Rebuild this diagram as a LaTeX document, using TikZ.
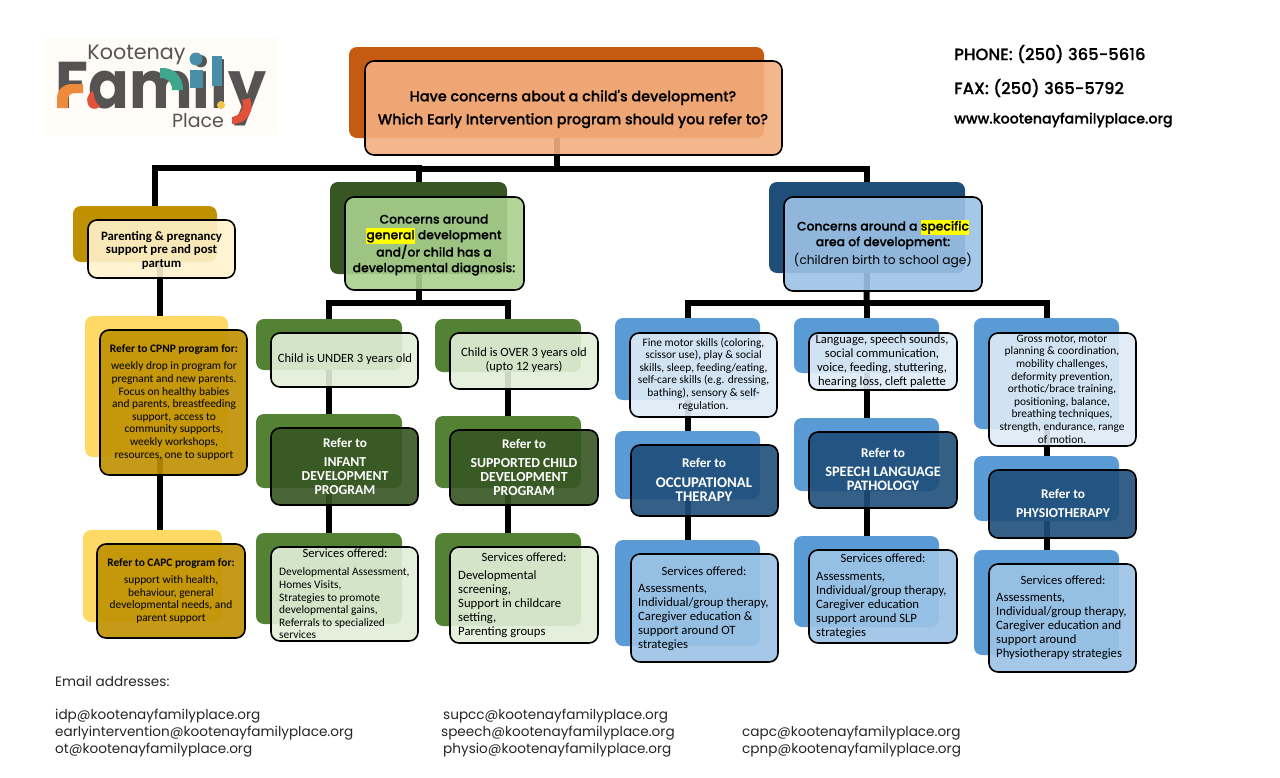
\documentclass[tikz,border=0pt]{standalone}
\usepackage{fontspec}
\usetikzlibrary{calc}
\setmainfont{Carlito}
\newfontfamily\gothic{Poppins}
\newfontfamily\gothicm[FakeBold=0.6]{Poppins Medium}
\setlength{\fboxsep}{0pt}
\definecolor{hl}{HTML}{FFFF00}
\newcommand{\fsz}[2]{\fontsize{#1}{#2}\selectfont}
\newcommand{\bk}[6]{\node[backbox,fill=#6,minimum width={(#4-#2)*1pt},minimum height={(#5-#3)*1pt}] (#1) at ({(#2+#4)/2},{(#3+#5)/2}) {};}
\newcommand{\fr}[6]{\node[frontbox,fill=#6,minimum width={(#4-#2)*1pt},minimum height={(#5-#3)*1pt}] (#1) at ({(#2+#4)/2},{(#3+#5)/2}) {};}
\tikzset{
  backbox/.style={rectangle,rounded corners=8pt,inner sep=0pt,draw=none},
  frontbox/.style={rectangle,rounded corners=9pt,inner sep=0pt,draw=black,line width=1.6pt,fill opacity=.9},
  conn/.style={draw=black,line width=6pt,line join=miter},
  mid/.style={inner sep=0pt,align=center,text=black},
  lft/.style={inner sep=0pt,align=left,anchor=west,text=black},
  head/.style={mid,font=\gothicm\fsz{14.4}{23}},
  genh/.style={mid,font=\gothicm\fsz{12.4}{15.6}},
  small/.style={mid,font=\fsz{11.4}{12.6},text=black},
  smalll/.style={lft,font=\fsz{11.4}{12.6}},
  big/.style={mid,font=\fsz{12.6}{14}},
  bigl/.style={lft,font=\fsz{12.7}{14}},
  refer/.style={mid,font=\bfseries\fsz{13.3}{14},text=white},
  refert/.style={mid,font=\bfseries\fsz{#1}{14},text=white},
  mail/.style={inner sep=0pt,anchor=west,font=\gothic\fsz{13.6}{15},text=black!85},
  contact/.style={inner sep=0pt,anchor=west,font=\gothicm\fsz{16.4}{18},text=black},
  logotxt/.style={inner sep=0pt,font=\gothic\fsz{#1}{#1},text=logoG},
}
\definecolor{orgD}{HTML}{C55A11}\definecolor{orgF}{HTML}{F3AF80}
\definecolor{goldD}{HTML}{BF9000}\definecolor{goldL}{HTML}{FFD966}\definecolor{cream}{HTML}{FFF2CC}
\definecolor{grnX}{HTML}{375623}\definecolor{grnM}{HTML}{548235}\definecolor{grnF}{HTML}{A9D18E}\definecolor{grnL}{HTML}{E2EFD9}
\definecolor{bluX}{HTML}{1F4E79}\definecolor{bluM}{HTML}{5B9BD5}\definecolor{bluF}{HTML}{9DC3E6}\definecolor{bluL}{HTML}{DEEBF7}
\definecolor{logoG}{HTML}{565353}\definecolor{logoO}{HTML}{EE8A3C}\definecolor{logoR}{HTML}{E2513A}\definecolor{logoT}{HTML}{3FA68E}\definecolor{logoB}{HTML}{4A8FA8}\definecolor{logoY}{HTML}{F3C544}
\begin{document}
\begin{tikzpicture}[x=1pt,y=-1pt]
\useasboundingbox (0,0) rectangle (1280,777);
\fill[white] (0,0) rectangle (1280,777);
% logo
\fill[fill=orange!3] (44,38) rectangle (277,135);
\node[inner sep=0pt,font=\gothic\bfseries\fsz{66}{66},text=logoG,xscale=.91] (family) at (161,91) {Family};
\node[logotxt=20.7] (koot) at (136.5,55) {Kootenay};
\node[logotxt=19] (place) at (198,121) {Place};
\fill[logoO] (57,108) -- (57,99) .. controls (57,90) and (63,84) .. (72,84) -- (83,84) -- (83,93) -- (75,93) .. controls (70,93) and (68,96) .. (68,100) -- (68,108) -- cycle;
\fill[logoR] (93,91) .. controls (86,94) and (85,104) .. (91,108) .. controls (95,110) and (99,108) .. (100,106) .. controls (96,104) and (94,98) .. (93,91) -- cycle;
\fill[logoT] (160,68) .. controls (174,67) and (183,76) .. (183,90) -- (172,90) .. controls (172,82) and (168,78) .. (160,78) -- cycle;
\fill[logoB] (196,59) circle (6.5);
\fill[logoB] (190,70) rectangle (203,88);
\fill[logoB] (212,56) rectangle (222,86);
\fill[logoY] (221,105) circle (4);
\fill[logoR] (250,98) .. controls (255,110) and (248,124) .. (232,124) -- (232,117) .. controls (240,116) and (245,108) .. (242,100) -- cycle;
% back boxes
\bk{top}{349}{47}{764}{138}{orgD}
\bk{par}{73}{206}{217}{262}{goldD}
\bk{cpnp}{85}{316}{228}{457}{goldL}
\bk{capc}{83}{530}{222}{622}{goldL}
\bk{gen}{330}{182}{507}{274}{grnX}
\bk{und}{256}{319}{402}{370}{grnM}
\bk{ovr}{435}{319}{581}{372}{grnM}
\bk{inf}{256}{414}{402}{488}{grnM}
\bk{sup}{435}{416}{581}{488}{grnM}
\bk{svA}{256}{533}{402}{624}{grnM}
\bk{svB}{435}{533}{581}{626}{grnM}
\bk{spc}{769}{182}{965}{273}{bluX}
\bk{fin}{615}{318}{760}{400}{bluM}
\bk{lan}{794}{318}{939}{373}{bluM}
\bk{grs}{974}{318}{1119}{429}{bluM}
\bk{ot}{615}{431}{760}{499}{bluM}
\bk{slp}{794}{418}{939}{491}{bluM}
\bk{pt}{974}{456}{1119}{521}{bluM}
\bk{sot}{615}{540}{760}{646}{bluM}
\bk{ssl}{794}{536}{939}{627}{bluM}
\bk{spt}{974}{550}{1119}{655}{bluM}
% connectors
\coordinate (busA) at (556.5,168.5);
\coordinate (busB) at (418.5,167.5);
\coordinate (busC) at (418.5,303);
\coordinate (busD) at (866.5,303);
\draw[conn] (top.south) -- (busA);
\draw[conn] ($(par.north)+(10,0)$) |- ($(busB)+(3,0)$);
\draw[conn] (gen.north) -- (busA -| gen.north);
\draw[conn] (gen.north |- busA) -| (spc.north);
\draw[conn] ($(par.south)+(15,0)$) -- ($(cpnp.north)+(3.5,0)$);
\draw[conn] ($(cpnp.south)+(3.5,0)$) -- ($(capc.north)+(7.5,0)$);
\draw[conn] (gen.south) -- (busC);
\draw[conn] (und.north) |- (busC) -| (ovr.north);
\draw[conn] (und.south) -- (inf.north);
\draw[conn] (ovr.south) -- (sup.north);
\draw[conn] (inf.south) -- (svA.north);
\draw[conn] (sup.south) -- (svB.north);
\draw[conn] (spc.south) -- (busD);
\draw[conn] (fin.north) |- (busD) -| (grs.north);
\draw[conn] (lan.north) -- (busD);
\draw[conn] (fin.south) -- (ot.north);
\draw[conn] (ot.south) -- (sot.north);
\draw[conn] (lan.south) -- (slp.north);
\draw[conn] (slp.south) -- (ssl.north);
\draw[conn] (grs.south) -- (pt.north);
\draw[conn] (pt.south) -- (spt.north);
% front boxes
\fr{topF}{365}{61}{782}{155}{orgF}
\fr{parF}{88}{220}{235}{278}{cream}
\fr{cpnpF}{100}{330}{247}{475}{goldD}
\fr{capcF}{97}{544}{245}{638}{goldD}
\fr{genF}{345}{197}{524}{290}{grnF}
\fr{undF}{271}{333}{418}{387}{grnL}
\fr{ovrF}{450}{333}{598}{389}{grnL}
\fr{infF}{271}{428}{418}{505}{grnX}
\fr{supF}{450}{430}{598}{505}{grnX}
\fr{svAF}{271}{547}{418}{641}{grnL}
\fr{svBF}{450}{547}{598}{643}{grnL}
\fr{spcF}{784}{197}{982}{291}{bluF}
\fr{finF}{630}{333}{777}{417}{bluL}
\fr{lanF}{809}{333}{957}{390}{bluL}
\fr{grsF}{989}{333}{1136}{446}{bluL}
\fr{otF}{631}{445}{778}{516}{bluX}
\fr{slpF}{809}{432}{957}{508}{bluX}
\fr{ptF}{989}{470}{1136}{538}{bluX}
\fr{sotF}{631}{554}{778}{662}{bluF}
\fr{sslF}{809}{550}{957}{643}{bluF}
\fr{sptF}{989}{564}{1136}{672}{bluF}
% texts
\node[head] (t1) at (573,109) {Have concerns about a child's development?\\Which Early Intervention program should you refer to?};
\node[mid,font=\bfseries\fsz{12.8}{13.5}] (t2) at (161.5,250) {Parenting \& pregnancy\\support pre and post\\partum};
\node[mid,font=\bfseries\fsz{11.4}{12.6}] (t3) at (174,349) {Refer to CPNP program for:};
\node[small] (t4) at (174,411) {weekly drop in program for\\pregnant and new parents.\\Focus on healthy babies\\and parents, breastfeeding\\support, access to\\community supports,\\weekly workshops,\\resources, one to support};
\node[mid,font=\bfseries\fsz{11.4}{12.6}] (t5) at (171,563) {Refer to CAPC program for:};
\node[small] (t6) at (171,599.5) {support with health,\\behaviour, general\\developmental needs, and\\parent support};
\node[genh] (t7) at (434,245) {Concerns around\\\colorbox{hl}{\strut general} development\\and/or child has a\\developmental diagnosis:};
\node[genh] (t8) at (883,234.5) {Concerns around a \colorbox{hl}{\strut specific}\\area of development:};
\node[mid,font=\gothic\fsz{12.2}{14}] (t9) at (883,260) {(children birth to school age)};
\node[big] (t10) at (345,359) {Child is UNDER 3 years old};
\node[big] (t11) at (524,360) {Child is OVER 3 years old\\(upto 12 years)};
\node[refer] (t12) at (345,443) {Refer to};
\node[refert=13.7] (t13) at (345,476) {INFANT\\DEVELOPMENT\\PROGRAM};
\node[refer] (t14) at (524,444) {Refer to};
\node[refert=13.8] (t15) at (524,477) {SUPPORTED CHILD\\DEVELOPMENT\\PROGRAM};
\node[big] (t16) at (345,553) {Services offered:};
\node[smalll] (t17) at (279,603.5) {Developmental Assessment,\\Homes Visits,\\Strategies to promote\\developmental gains,\\Referrals to specialized\\services};
\node[big] (t18) at (524,557) {Services offered:};
\node[bigl] (t19) at (458,604.5) {Developmental\\screening,\\Support in childcare\\setting,\\Parenting groups};
\node[small] (t20) at (703.5,374.5) {Fine motor skills (coloring,\\scissor use), play \& social\\skills, sleep, feeding/eating,\\self-care skills (e.g. dressing,\\bathing), sensory \& self-\\regulation.};
\node[big] (t21) at (882,361) {Language, speech sounds,\\social communication,\\voice, feeding, stuttering,\\hearing loss, cleft palette};
\node[small] (t22) at (1062,389) {Gross motor, motor\\planning \& coordination,\\mobility challenges,\\deformity prevention,\\orthotic/brace training,\\positioning, balance,\\breathing techniques,\\strength, endurance, range\\of motion.};
\node[refer] (t23) at (704,463) {Refer to};
\node[refert=14.8] (t24) at (704,489.5) {OCCUPATIONAL\\THERAPY};
\node[refer] (t25) at (883,453) {Refer to};
\node[refert=14.4] (t26) at (883,479) {SPEECH LANGUAGE\\PATHOLOGY};
\node[refer] (t27) at (1063,494) {Refer to};
\node[refert=13.6] (t28) at (1063,513) {PHYSIOTHERAPY};
\node[big] (t29) at (704,571) {Services offered:};
\node[bigl] (t30) at (638,618) {Assessments,\\Individual/group therapy,\\Caregiver education \&\\support around OT\\strategies};
\node[big] (t31) at (883,558) {Services offered:};
\node[bigl] (t32) at (816,606) {Assessments,\\Individual/group therapy,\\Caregiver education\\support around SLP\\strategies};
\node[big] (t33) at (1063,580) {Services offered:};
\node[bigl] (t34) at (996,627) {Assessments,\\Individual/group therapy,\\Caregiver education and\\support around\\Physiotherapy strategies};
% contact
\node[contact] (c1) at (954,54) {PHONE: (250) 365-5616};
\node[contact] (c2) at (954,88) {FAX: (250) 365-5792};
\node[contact,font=\gothicm\fsz{14.2}{16}] (c3) at (954,120) {www.kootenayfamilyplace.org};
% emails
\node[mail] (m0) at (55,681) {Email addresses:};
\node[mail] (m1) at (55,716) {idp@kootenayfamilyplace.org};
\node[mail] (m2) at (55,733) {earlyintervention@kootenayfamilyplace.org};
\node[mail] (m3) at (55,750) {ot@kootenayfamilyplace.org};
\node[mail] (m4) at (443,716) {supcc@kootenayfamilyplace.org};
\node[mail] (m5) at (441,733) {speech@kootenayfamilyplace.org};
\node[mail] (m6) at (443,750) {physio@kootenayfamilyplace.org};
\node[mail] (m7) at (742,733) {capc@kootenayfamilyplace.org};
\node[mail] (m8) at (742,750) {cpnp@kootenayfamilyplace.org};
\end{tikzpicture}
\end{document}
